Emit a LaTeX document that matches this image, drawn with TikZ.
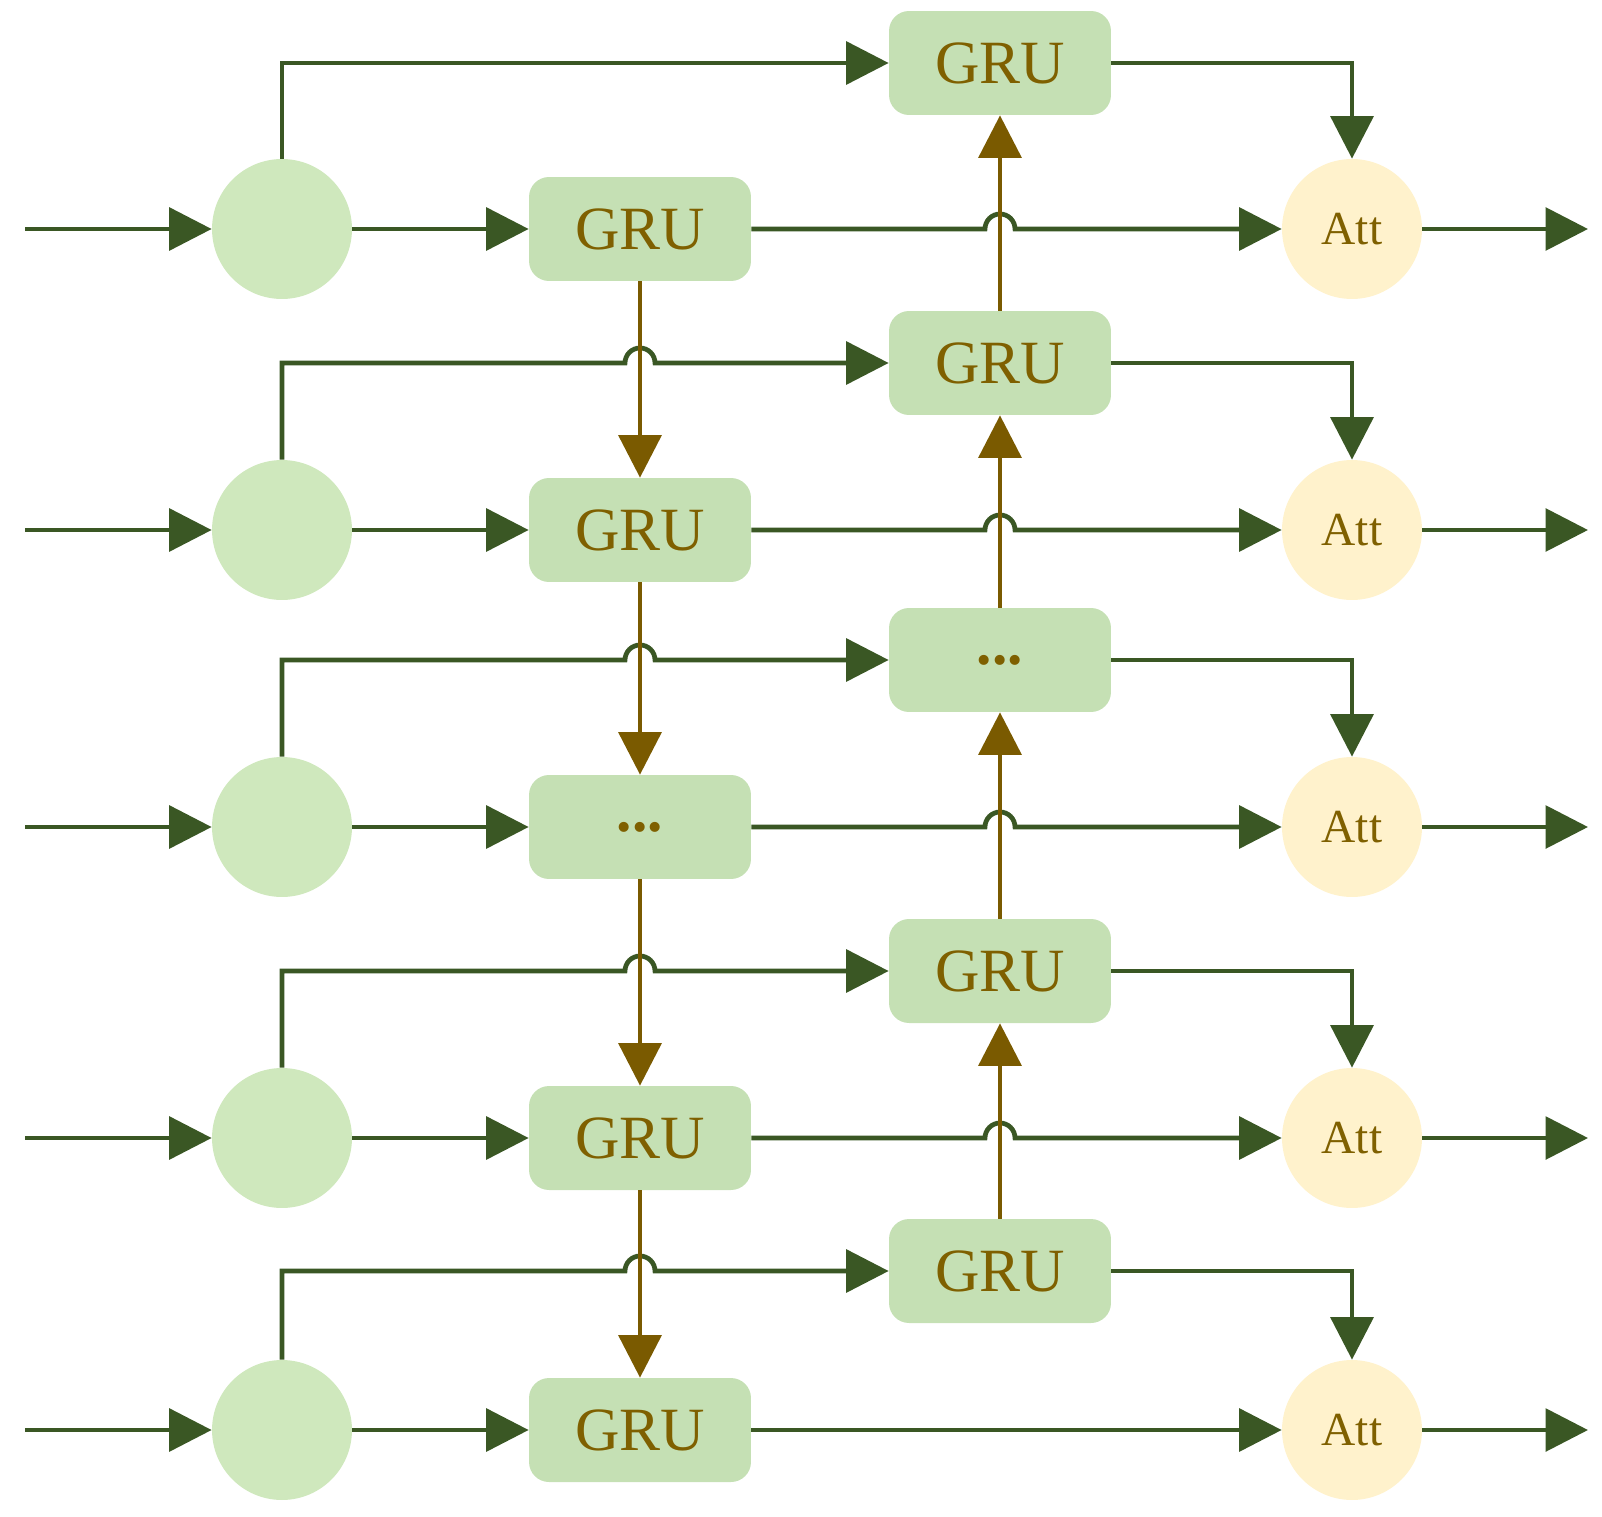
\documentclass[tikz,border=0pt]{standalone}
\usepackage{fontspec}
\setmainfont{Liberation Serif}
\usetikzlibrary{arrows.meta}
\definecolor{dg}{HTML}{3A5724}
\definecolor{br}{HTML}{7A5A00}
\definecolor{gf}{HTML}{C5E0B4}
\definecolor{cf}{HTML}{CFE8BD}
\definecolor{af}{HTML}{FFF2CC}
\definecolor{tx}{HTML}{7F6000}
\tikzset{
 grubox/.style={fill=gf,rounded corners=0.4cm,minimum width=4.44cm,minimum height=2.08cm,text=tx,font=\fontsize{35}{37}\selectfont},
 incirc/.style={circle,fill=cf,minimum size=2.8cm},
 attcirc/.style={circle,fill=af,minimum size=2.8cm,text=tx,font=\fontsize{27}{29}\selectfont},
 gline/.style={draw=dg,line width=2.7pt,-{Triangle[length=0.85cm,width=0.85cm]}},
 bline/.style={draw=br,line width=2.7pt,-{Triangle[length=0.85cm,width=0.85cm]}},
}
\begin{document}
\begin{tikzpicture}[x=0.02cm,y=-0.02cm]
\useasboundingbox (0,0) rectangle (1602,1517);
\foreach \r/\ym/\yu/\lab in {1/229/63/GRU,2/530/363/GRU,3/827/660/\textbf{...},4/1138/971/GRU,5/1430/1271/GRU}{
  \node[incirc] (c\r) at (282,\ym) {};
  \node[grubox] (l\r) at (640,\ym) {\lab};
  \node[grubox] (u\r) at (1000,\yu) {\lab};
  \node[attcirc] (a\r) at (1352,\ym) {Att};
  \coordinate (in\r) at (25,\ym);
  \coordinate (out\r) at (1588,\ym);
}
\foreach \r/\ym/\yu in {1/229/63,2/530/363,3/827/660,4/1138/971,5/1430/1271}{
  \draw[gline] (in\r) -- (c\r);
  \draw[gline] (c\r) -- (l\r);
  \draw[gline] (a\r) -- (out\r);
  \draw[gline] (u\r.east) -| (a\r.north);
}
\foreach \r/\ym in {1/229,2/530,3/827,4/1138}{
  \draw[gline] (l\r.east) -- (985,\ym) arc[start angle=180,end angle=360,radius=15] -- (a\r.west);
}
\draw[gline] (l5.east) -- (a5.west);
\draw[gline] (c1.north) |- (u1.west);
\foreach \r/\yu in {2/363,3/660,4/971,5/1271}{
  \draw[gline] (c\r.north) |- (625,\yu) arc[start angle=180,end angle=360,radius=15] -- (u\r.west);
}
\foreach \r/\n in {1/2,2/3,3/4,4/5}{
  \draw[bline] (l\r.south) -- (l\n.north);
  \draw[bline] (u\n.north) -- (u\r.south);
}
\end{tikzpicture}
\end{document}
